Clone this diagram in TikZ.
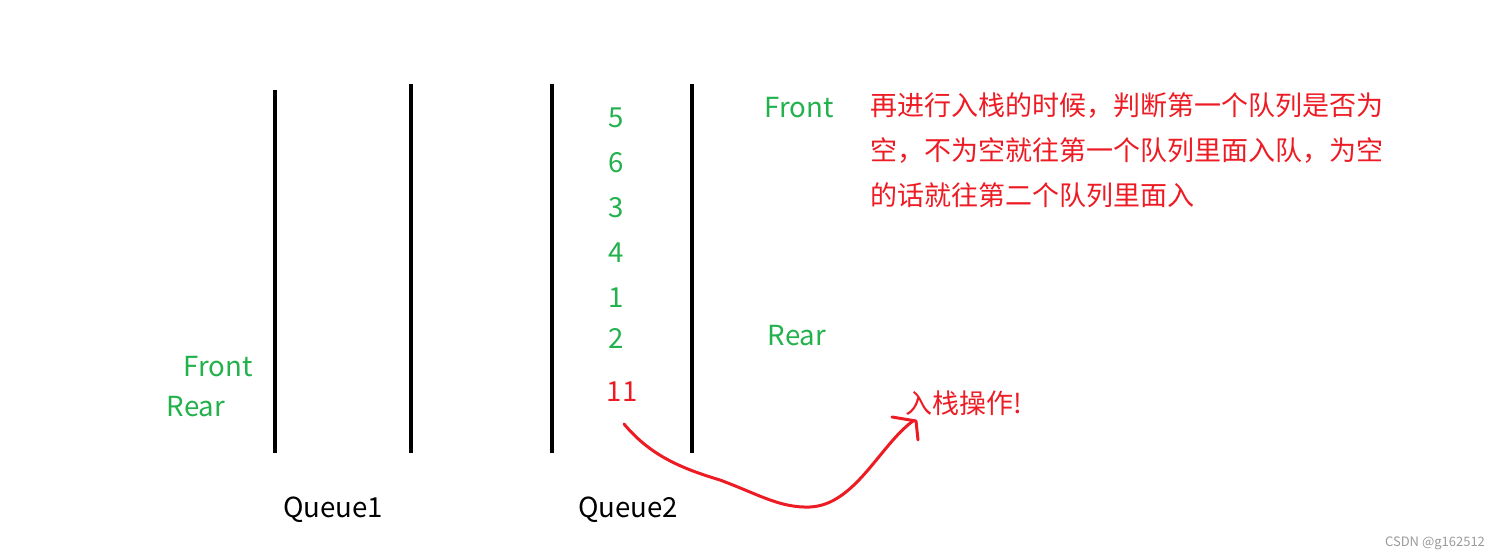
\documentclass[tikz,border=0pt]{standalone}
\usepackage{fontspec}
\setmainfont{Noto Sans CJK SC}
\usetikzlibrary{positioning}
\definecolor{paintgreen}{HTML}{22B14C}
\definecolor{paintred}{HTML}{ED1C24}
\definecolor{wmgray}{HTML}{9A9A9A}

\begin{document}
\begin{tikzpicture}[x=0.5pt,y=-0.5pt,
  wall/.style={line width=2pt,black},
  lbl/.style={font=\fontsize{13.8}{16}\selectfont,inner sep=0pt},
  pen/.style={paintred,line width=1.5pt,line cap=round,line join=round}]
  \useasboundingbox (0,0) rectangle (1507,560);
  % queue walls
  \draw[wall] (275,90) -- (275,453);
  \draw[wall] (411,84) -- (411,453);
  \draw[wall] (552,84) -- (552,453);
  \draw[wall] (692,84) -- (692,453);
  \node[lbl] (q1) at (333,510) {Queue1};
  \node[lbl] (q2) at (628,510) {Queue2};
  % queue1 pointers
  \node[lbl,text=paintgreen] (front1) at (218,367) {Front};
  \node[lbl,text=paintgreen] (rear1) at (196,407) {Rear};
  % queue2 contents
  \foreach \v/\y in {5/118,6/163,3/208,4/253,1/298,2/338}{
     \node[lbl,text=paintgreen] (n\v) at (616,\y) {\v};}
  \node[lbl,text=paintred] (n11) at (622,392) {11};
  \node[lbl,text=paintgreen] (front2) at (799,108) {Front};
  \node[lbl,text=paintgreen] (rear2) at (797,336) {Rear};
  % note
  \node[lbl,text=paintred,align=left,anchor=north west,
        font=\fontsize{13.5}{22.5}\selectfont] (note) at (870,92)
       {再进行入栈的时候，判断第一个队列是否为\\空，不为空就往第一个队列里面入队，为空\\的话就往第二个队列里面入};
  \node[lbl,text=paintred,font=\fontsize{13.5}{16}\selectfont] (push) at (964,403) {入栈操作!};
  % hand-drawn arrow
  \coordinate (from) at (624,424);
  \coordinate (tip) at (913,421);
  \coordinate (headl) at (892,417);
  \coordinate (headb) at (918,440);
  \draw[pen] (from) .. controls (650,455) and (680,468) .. (720,480)
     .. controls (760,495) and (780,508) .. (810,507)
     .. controls (855,505) and (880,445) .. (tip);
  \draw[pen] (headl) -- (916,421) -- (headb);
  \node[font=\fontsize{6.5}{8}\selectfont,text=wmgray,inner sep=0pt] (wm) at (1435,543) {CSDN @g162512};
\end{tikzpicture}
\end{document}
